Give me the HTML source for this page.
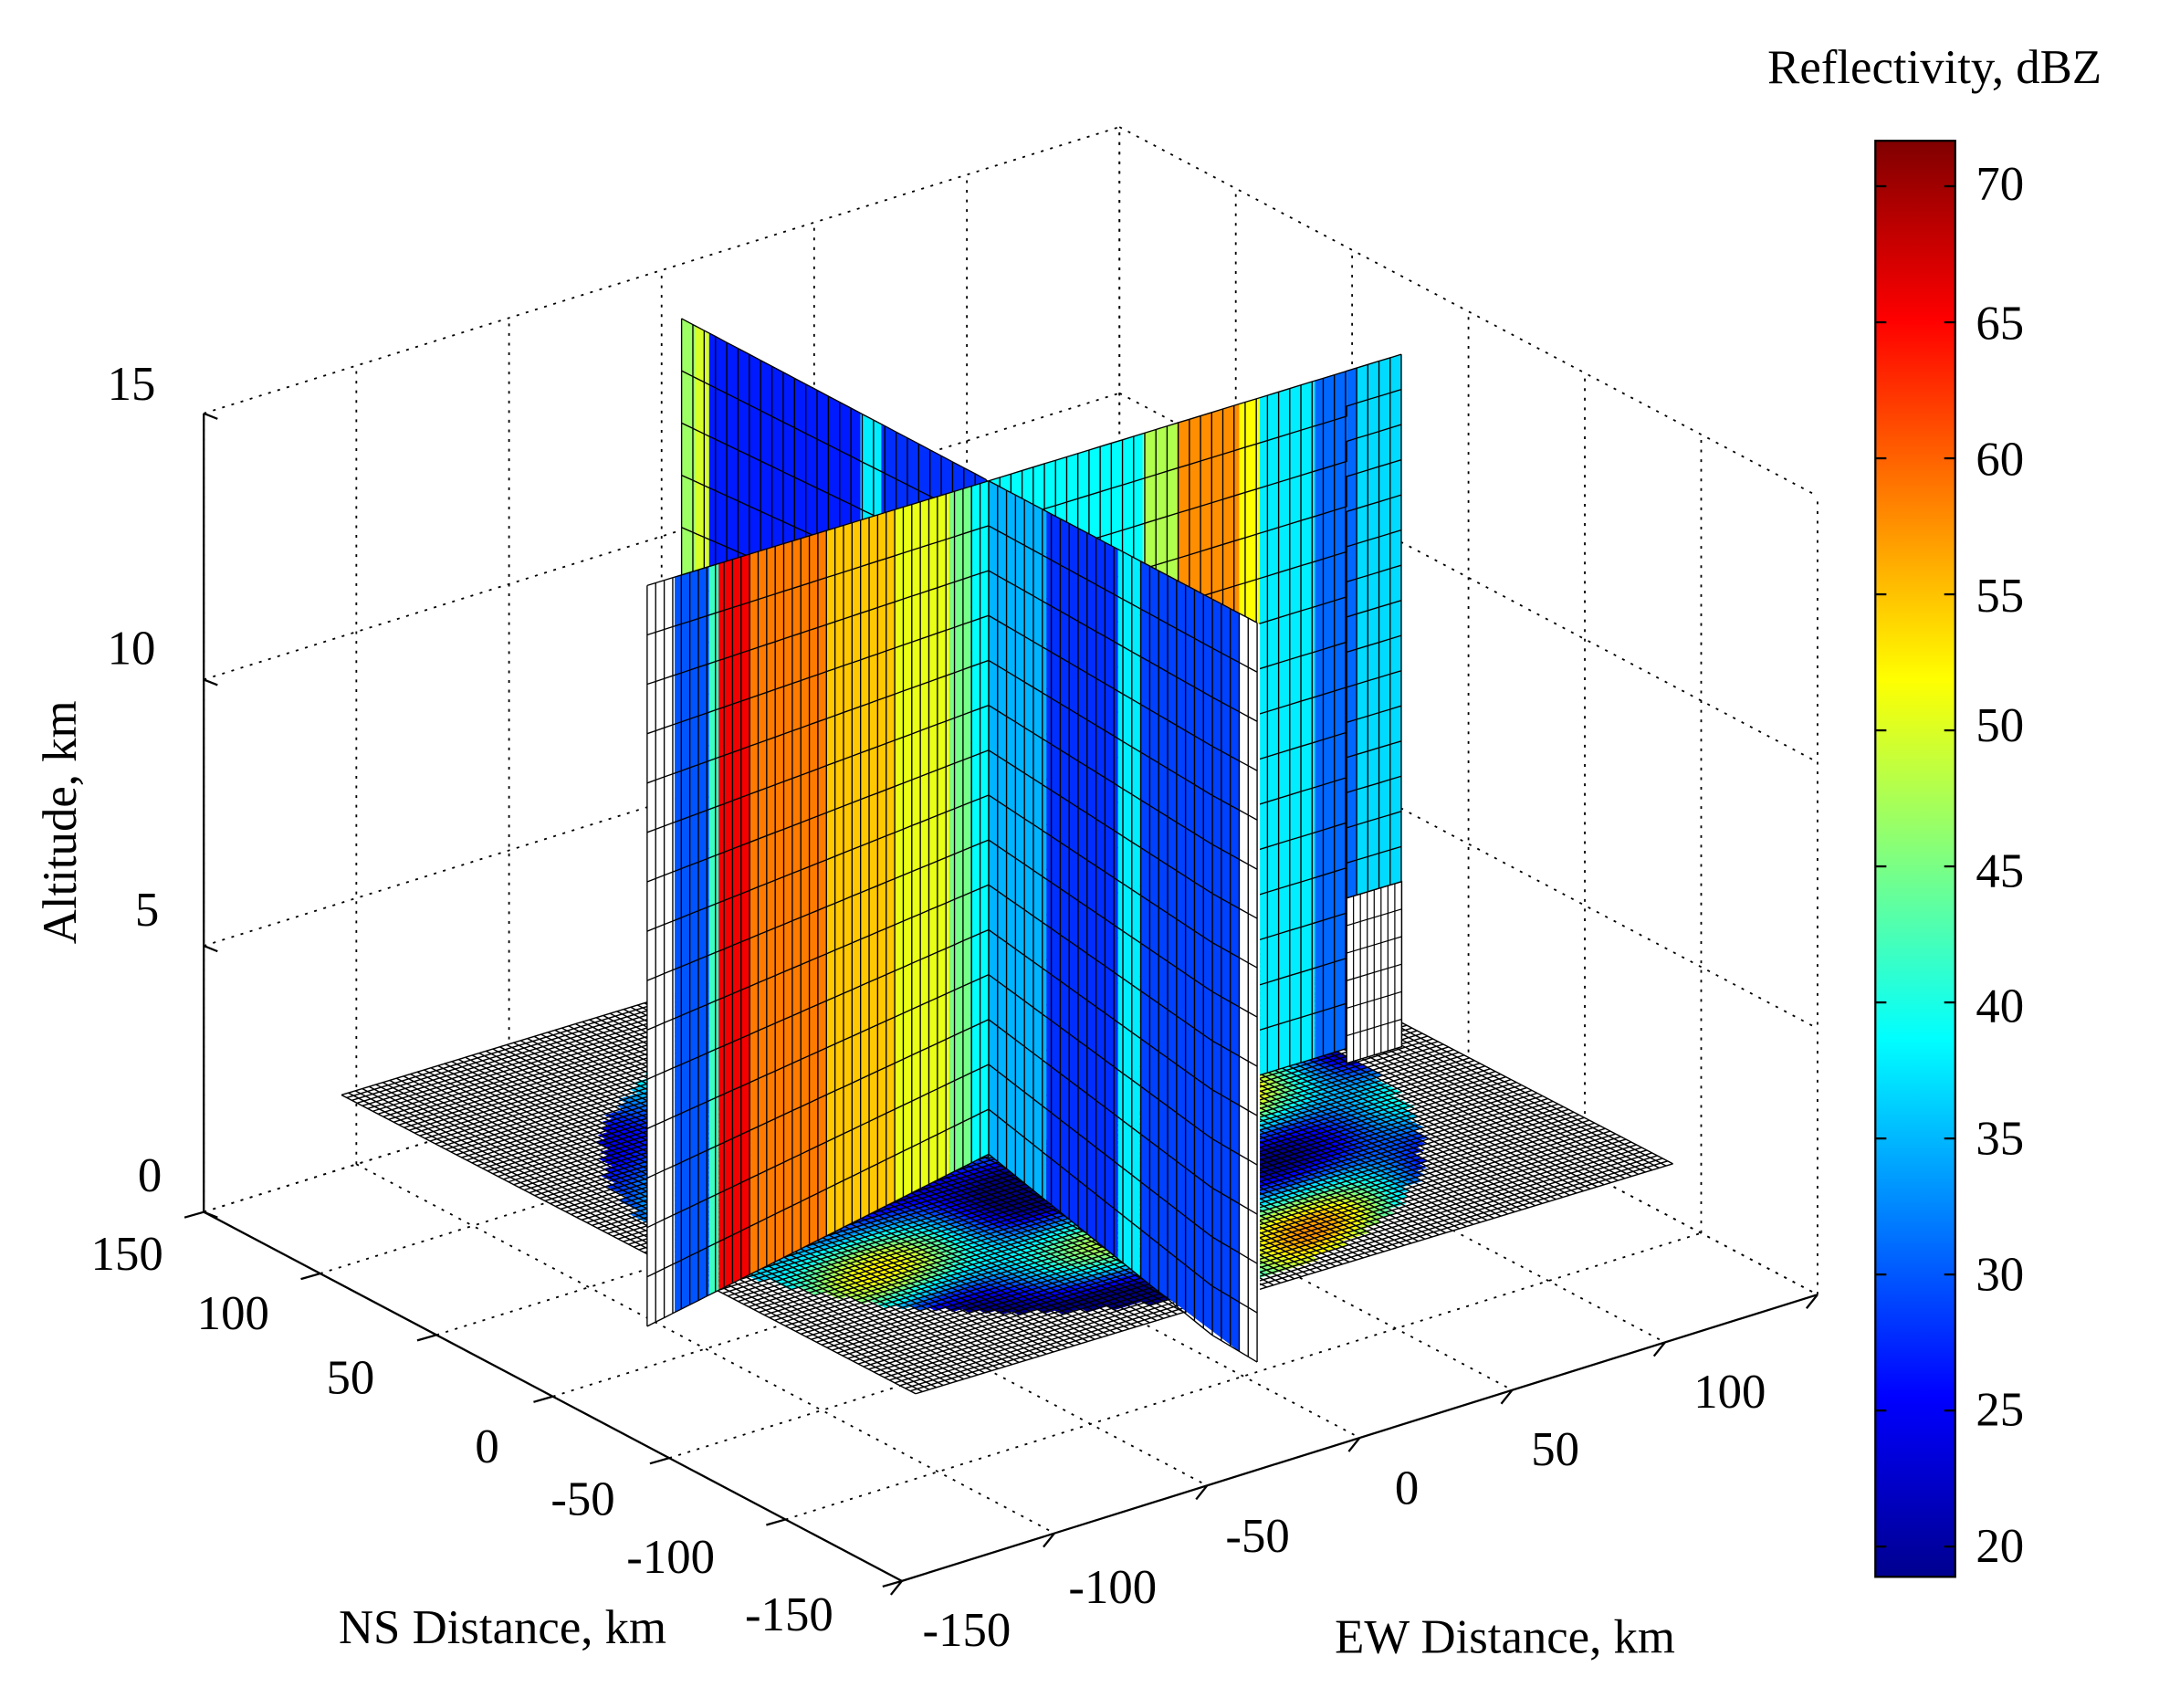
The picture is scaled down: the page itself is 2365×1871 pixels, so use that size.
<!DOCTYPE html>
<html><head><meta charset="utf-8"><style>html,body{margin:0;padding:0;background:#fff}svg{display:block}</style></head>
<body>
<svg id="s" xmlns="http://www.w3.org/2000/svg" width="2365" height="1871" viewBox="0 0 1568 1240" font-family="Liberation Serif, serif" font-size="35">
<defs>
<linearGradient id="jet" x1="0" y1="1" x2="0" y2="0">
<stop offset="0" stop-color="#00008f"/><stop offset="0.125" stop-color="#0000ff"/><stop offset="0.375" stop-color="#00ffff"/><stop offset="0.625" stop-color="#ffff00"/><stop offset="0.875" stop-color="#ff0000"/><stop offset="1" stop-color="#800000"/>
</linearGradient>
</defs>
<g id="g"></g>
<g fill="#000">
<text x="78" y="290">15</text><text x="78" y="482">10</text><text x="98" y="672">5</text><text x="100" y="865">0</text>
<text x="66" y="922">150</text><text x="143" y="965">100</text><text x="237" y="1012">50</text><text x="345" y="1062">0</text>
<text x="400" y="1100">-50</text><text x="455" y="1142">-100</text><text x="541" y="1184">-150</text>
<text x="670" y="1195">-150</text><text x="776" y="1164">-100</text><text x="890" y="1127">-50</text><text x="1013" y="1092">0</text>
<text x="1112" y="1064">50</text><text x="1230" y="1022">100</text>
<text transform="translate(55,597) rotate(-90)" text-anchor="middle">Altitude, km</text>
<text x="365" y="1193" text-anchor="middle">NS Distance, km</text>
<text x="1093" y="1200" text-anchor="middle">EW Distance, km</text>
<text x="1405" y="60" text-anchor="middle">Reflectivity, dBZ</text>
<text x="1435" y="145">70</text><text x="1435" y="246">65</text><text x="1435" y="345">60</text><text x="1435" y="444">55</text><text x="1435" y="538">50</text><text x="1435" y="644">45</text><text x="1435" y="742">40</text><text x="1435" y="838">35</text><text x="1435" y="937">30</text><text x="1435" y="1035">25</text><text x="1435" y="1134">20</text>
</g>
<rect x="1362" y="102" width="58" height="1043" fill="url(#jet)" stroke="#000" stroke-width="1.5"/>
<g id="cb" stroke="#000" stroke-width="1.5"></g>
</svg>
<script>
var G=document.getElementById('g'),out='';
function jet(v){var t=(v-19)/(72-19);t=Math.max(0,Math.min(1,t));function c(x){return Math.round(255*Math.max(0,Math.min(1,x)))}
return 'rgb('+c(1.5-Math.abs(4*t-3))+','+c(1.5-Math.abs(4*t-2))+','+c(1.5-Math.abs(4*t-1))+')';}
function L(a,b,st){out+='<line x1="'+a[0].toFixed(1)+'" y1="'+a[1].toFixed(1)+'" x2="'+b[0].toFixed(1)+'" y2="'+b[1].toFixed(1)+'" '+st+'/>';}
function Pg(pts,fill,st){out+='<polygon points="'+pts.map(function(p){return p[0].toFixed(1)+','+p[1].toFixed(1)}).join(' ')+'" fill="'+fill+'" '+(st||'')+'/>';}
function P(e,n,z){return [655+(e+150)*665/300+(n+150)*(-507/300), 1148+(e+150)*(-208/300)+(n+150)*(-268/300)-z*38.667];}
var dot='stroke="#000" stroke-width="1.2" stroke-dasharray="2,5"';
var tk=[-150,-100,-50,0,50,100,150];
tk.forEach(function(t){
 L(P(t,150,0),P(t,150,15),dot); L(P(150,t,0),P(150,t,15),dot);
 L(P(t,150,0),P(t,-150,0),dot); L(P(-150,t,0),P(150,t,0),dot);
});
[0,5,10,15].forEach(function(z){L(P(-150,150,z),P(150,150,z),dot);L(P(150,150,z),P(150,-150,z),dot);});
var sol='stroke="#000" stroke-width="1.5"';
L(P(-150,150,0),P(-150,150,15),sol);L(P(-150,150,0),P(-150,-150,0),sol);L(P(-150,-150,0),P(150,-150,0),sol);
tk.forEach(function(t){var a=P(t,-150,0);L(a,[a[0]-8,a[1]+10],sol);var b=P(-150,t,0);L(b,[b[0]-14,b[1]+4],sol);});
[0,5,10,15].forEach(function(z){var a=P(-150,150,z);L(a,[a[0]+10,a[1]+4],sol);});
var G0=[248,795],G1=[665,1012],G3=[798,628];
function Gp(u,v){return [G0[0]+u*(G1[0]-G0[0])+v*(G3[0]-G0[0]),G0[1]+u*(G1[1]-G0[1])+v*(G3[1]-G0[1])];}
Pg([Gp(0,0),Gp(1,0),Gp(1,1),Gp(0,1)],'#fff');
var M=80;
function val(u,v){var x=u*8,y=v*8;return 34+11*Math.sin(x*1.7+1)*Math.cos(y*1.3)+9*Math.sin(x*0.9+y*1.4+2)+8*Math.cos(x*2.3-y*0.7)+6*Math.sin(x*3.1+y*2.2);}
for(var i=0;i<M;i++)for(var j=0;j<M;j++){var u=i/M,v=j/M,du=u+.5/M-.547,dv=v+.5/M-.471;if(du*du+dv*dv>0.185)continue;
 var col=jet(val(u,v));Pg([Gp(u,v),Gp(u+1/M,v),Gp(u+1/M,v+1/M),Gp(u,v+1/M)],col,'stroke="'+col+'" stroke-width="0.6"');}
var N=110,ms='stroke="#000" stroke-width="0.95"';
for(var i=0;i<=N;i++){L(Gp(i/N,0),Gp(i/N,1),ms);L(Gp(0,i/N),Gp(1,i/N),ms);}
function plane(x0,x1,top,bot,stripes,rows,colstep,brk){
 stripes.forEach(function(s){var a=s[0],b=s[1];var f=s[2]==null?'#fff':jet(s[2]);
  Pg([[a,top(a)],[b,top(b)],[b,bot(b-0.001)],[a,bot(a)]],f);});
 var ls='stroke="#000" stroke-width="0.9"';
 var xs=[];for(var x=x0;x<=x1+0.01;x+=colstep)xs.push(Math.min(x,x1));
 xs.forEach(function(x){L([x,top(x)],[x,bot(x)],ls);});
 if(brk){xs.push(brk-0.001,brk);xs.sort(function(a,b){return a-b});}
 for(var r=0;r<=rows;r++){var f=r/rows;var pts=xs.map(function(x){return (x.toFixed(2))+','+(top(x)+f*(bot(x)-top(x))).toFixed(1)});
  out+='<polyline points="'+pts.join(' ')+'" fill="none" '+ls+'/>';}
}
var t2=function(x){return 425-0.3066*(x-470)};
var b2=function(x){return 841-0.3066*(x-718)};
var t1=function(x){return 349+0.5286*(x-718)};
var b1=function(x){return x<=878?838+0.81*(x-718):968+0.6*(x-878)};
(function(){var a=978,b=1018;Pg([[a,652],[b,640],[b,760],[a,772]],'#fff','stroke="#000" stroke-width="0.9"');
for(var x=a;x<=b;x+=5)L([x,652-(x-a)*0.3],[x,772-(x-a)*0.3],'stroke="#000" stroke-width="0.8"');
for(var k=0;k<=6;k++){var y=652+k*20;L([a,y],[b,y-12],'stroke="#000" stroke-width="0.8"');}})();
plane(718,1018,t2,function(x){return x<978?b2(x):652-0.3*(x-978)},[[718,830,39],[830,855,48],[855,900,58],[900,915,52],[915,955,38],[955,978,31],[978,985,31],[985,1018,37]],15,8.1,978);
plane(495,718,t1,function(x){return 800+0.17*(x-495)},[[495,505,47],[505,515,50],[515,625,27],[625,640,38],[640,718,28]],15,8.2);
plane(718,915,t1,b1,[[718,760,35],[760,812,28],[812,828,38],[828,900,29],[900,915,null]],15,6.5);
plane(470,718,t2,function(x){return 963-0.504*(x-470)},[[470,490,null],[490,515,30],[515,522,42],[522,545,66],[545,600,59],[600,650,55],[650,690,51],[690,705,45],[705,718,39]],15,6.2);
G.innerHTML=out;
var cb='';[20,25,30,35,40,45,50,55,60,65,70].forEach(function(v){var y=1123-(v-20)*19.76;cb+='<line x1="1362" y1="'+y+'" x2="1370" y2="'+y+'"/><line x1="1412" y1="'+y+'" x2="1420" y2="'+y+'"/>';});
document.getElementById('cb').innerHTML=cb;
</script>
</body></html>
